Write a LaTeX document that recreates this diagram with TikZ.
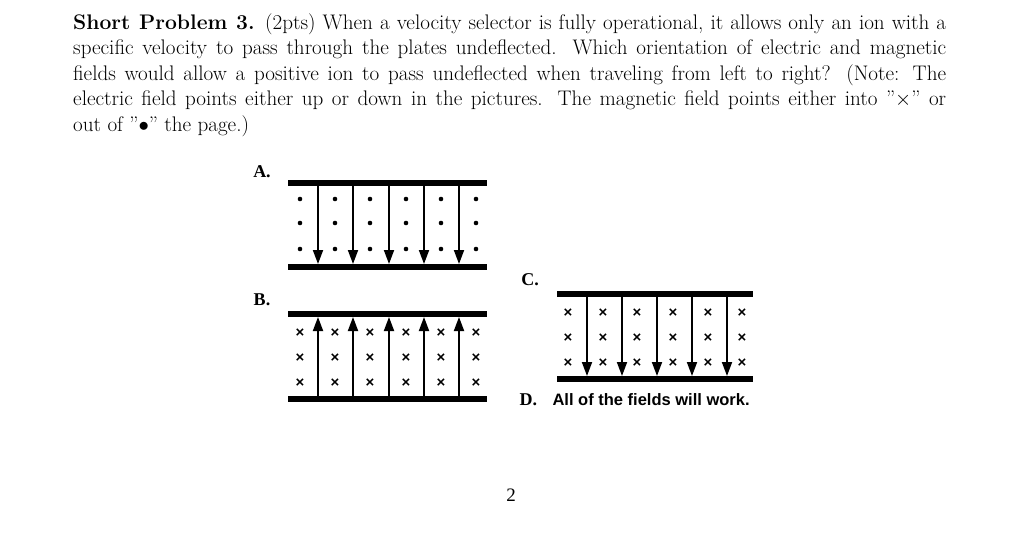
\documentclass[tikz,border=0pt]{standalone}
\usepackage{fontspec}
\usetikzlibrary{arrows.meta}
\newfontfamily\tnr{Liberation Serif}
\newfontfamily\arl{Liberation Sans}
\begin{document}
\begin{tikzpicture}[x=1pt,y=-1pt,
  plate/.style={line width=6pt},
  efield/.style={line width=1.8pt,-{Triangle[length=14pt,width=10pt]}},
  lab/.style={font=\tnr\bfseries\fontsize{18}{20}\selectfont},
  xm/.style={font=\arl\bfseries\fontsize{15}{15}\selectfont}]
\useasboundingbox (0,0) rectangle (1029,544);
\node[anchor=north west,text width=873pt,inner sep=0pt,align=justify,
  font=\fontsize{21.1}{25.5}\selectfont] (txt) at (73,13)
 {\textbf{Short Problem 3.} (2pts) When a velocity selector is fully operational, it allows only an ion with a\linebreak{} specific velocity to pass through the plates undeflected. Which orientation of electric and magnetic\linebreak{} fields would allow a positive ion to pass undeflected when traveling from left to right? (Note: The\linebreak{} electric field points either up or down in the pictures. The magnetic field points either into ''$\times$'' or\linebreak{} out of ''$\bullet$'' the page.)};
% A
\node[lab] (la) at (262,172) {A.};
\draw[plate] (288,183) -- (487,183);
\draw[plate] (288,267) -- (487,267);
\foreach \x in {318,353,389,424,459} \draw[efield] (\x,186) -- (\x,264);
\foreach \x in {300,335,370,406,441,476} \foreach \y in {199,223,249} \fill (\x,\y) circle (2.3pt);
% B
\node[lab] (lb) at (262,300) {B.};
\draw[plate] (288,314) -- (487,314);
\draw[plate] (288,399) -- (487,399);
\foreach \x in {318,353,389,424,459} \draw[efield] (\x,396) -- (\x,317);
\foreach \x in {300,335,370,406,441,476} \foreach \y in {333,358,383} \node[xm] at (\x,\y) {×};
% C
\node[lab] (lc) at (530,280) {C.};
\draw[plate] (557,294) -- (753,294);
\draw[plate] (557,379) -- (753,379);
\foreach \x in {587,622,657,692,727} \draw[efield] (\x,297) -- (\x,376);
\foreach \x in {568,603,637,673,708,742} \foreach \y in {313,338,363} \node[xm] at (\x,\y) {×};
% D
\node[lab,anchor=west] (ld) at (516,400) {D.};
\node[anchor=west,font=\arl\bfseries\fontsize{16.5}{19}\selectfont] (dt) at (549,400) {All of the fields will work.};
\node[font=\tnr\fontsize{19}{20}\selectfont] (pg) at (511,495) {2};
\end{tikzpicture}
\end{document}
